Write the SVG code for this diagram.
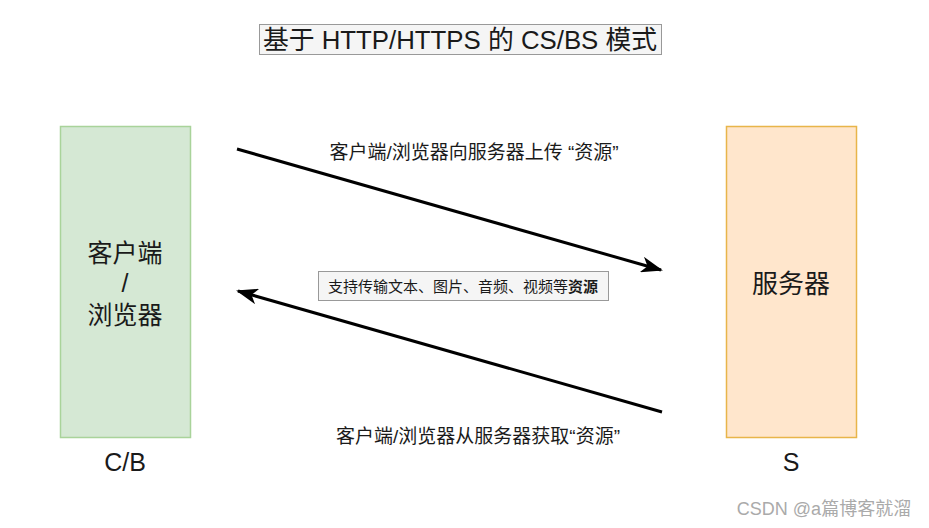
<svg xmlns="http://www.w3.org/2000/svg" width="929" height="528" viewBox="0 0 929 528">
<style>
text{font-family:"Liberation Sans","Noto Sans CJK SC",sans-serif;fill:#1a1a1a}
.big{font-size:25px}
.lbl{font-size:19px}
.conn{stroke:#000;stroke-width:3;fill:none}
</style>
<defs>
<marker id="ah" viewBox="0 0 22 16" refX="20" refY="8" markerWidth="22" markerHeight="16" markerUnits="userSpaceOnUse" orient="auto">
<path d="M0,0 L22,8 L0,16 L6,8 Z" fill="#000"/>
</marker>
</defs>
<rect width="929" height="528" fill="#fff"/>
<g id="title">
<rect x="259.5" y="24.5" width="402" height="30" fill="#f5f5f5" stroke="#999"/>
<text x="460" y="49" font-size="25.8" text-anchor="middle">基于 HTTP/HTTPS 的 CS/BS 模式</text>
</g>
<g id="client">
<rect x="60.5" y="126.5" width="130" height="311" fill="#d5e8d4" stroke="#a9d39a" stroke-width="1.5"/>
<text class="big" x="125" y="262" text-anchor="middle">客户端</text>
<text class="big" x="125" y="292" text-anchor="middle">/</text>
<text class="big" x="125" y="324" text-anchor="middle">浏览器</text>
<text class="big" x="125" y="471" text-anchor="middle">C/B</text>
</g>
<g id="server">
<rect x="726.5" y="126.5" width="130" height="311" fill="#ffe6cc" stroke="#e8b54a" stroke-width="1.5"/>
<text x="791" y="293" font-size="26" text-anchor="middle">服务器</text>
<text class="big" x="791" y="471" text-anchor="middle">S</text>
</g>
<g id="connectors">
<line class="conn" x1="237" y1="149" x2="661" y2="270" marker-end="url(#ah)"/>
<line class="conn" x1="662" y1="412" x2="238" y2="291" marker-end="url(#ah)"/>
</g>
<g id="labels">
<text class="lbl" x="474" y="159" text-anchor="middle">客户端/浏览器向服务器上传 “资源”</text>
<rect x="318.5" y="271.5" width="290" height="29" fill="#f5f5f5" stroke="#999"/>
<text x="463" y="292" font-size="15" text-anchor="middle">支持传输文本、图片、音频、视频等<tspan font-weight="bold">资源</tspan></text>
<text class="lbl" x="478" y="443" text-anchor="middle">客户端/浏览器从服务器获取“资源”</text>
</g>
<text x="824" y="515" font-size="18" text-anchor="middle" style="fill:#aaa">CSDN @a篇博客就溜</text>
</svg>
